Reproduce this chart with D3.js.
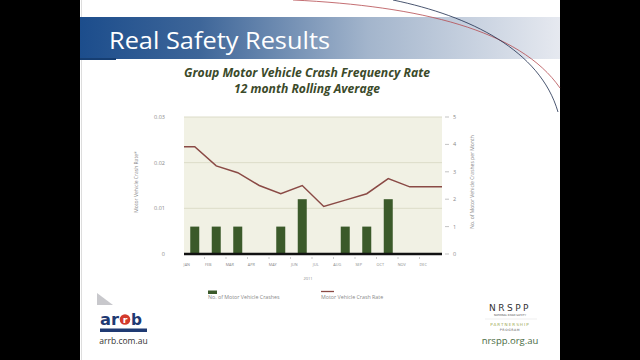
<!DOCTYPE html>
<html><head><meta charset="utf-8">
<script src="https://cdn.jsdelivr.net/npm/d3@7"></script>
<style>html,body{margin:0;padding:0;background:#000;overflow:hidden}</style>
</head><body><svg id="c" width="640" height="360"></svg>
<script>
const months = ["JAN","FEB","MAR","APR","MAY","JUN","JUL","AUG","SEP","OCT","NOV","DEC"];
const crashes = [1,1,1,0,1,2,0,1,1,2,0,0];
const crashRate = [0.0235,0.0193,0.0178,0.015,0.0132,0.015,0.0104,0.0118,0.0132,0.0165,0.0147,0.0147];
const leftTicks = [0,0.01,0.02,0.03];
const rightTicks = [0,1,2,3,4,5];
const yearLabel = "2011";

const svg = d3.select("#c");
// slide
svg.append("rect").attr("x",80).attr("y",0).attr("width",480).attr("height",360).attr("fill","#fff");
svg.append("line").attr("x1",81.5).attr("x2",81.5).attr("y1",0).attr("y2",360).attr("stroke","#ddd");
const defs = svg.append("defs");
const g1 = defs.append("linearGradient").attr("id","ban").attr("x1","0").attr("x2","1");
g1.append("stop").attr("offset","0").attr("stop-color","#1c4d8c");
g1.append("stop").attr("offset","0.25").attr("stop-color","#3e6699");
g1.append("stop").attr("offset","0.6").attr("stop-color","#a3b5cc");
g1.append("stop").attr("offset","1").attr("stop-color","#e6e9f0");
svg.append("rect").attr("x",80).attr("y",17).attr("width",480).attr("height",42).attr("fill","url(#ban)");
svg.append("rect").attr("x",80).attr("y",58).attr("width",36).attr("height",2).attr("fill","#163e72");
svg.append("text").attr("x",109).attr("y",49).attr("fill","#fff").attr("font-family","Open Sans")
  .attr("font-size",23).attr("textLength",221).attr("lengthAdjust","spacingAndGlyphs").text("Real Safety Results");
// decorative arcs
svg.append("path").attr("d","M293,0 C420,6 520,30 560,88").attr("fill","none").attr("stroke","#b54a4f").attr("stroke-width",0.8);
svg.append("path").attr("d","M393,0 C470,16 540,50 558,112").attr("fill","none").attr("stroke","#1d2c4d").attr("stroke-width",0.8);

// title
const tg = svg.append("g").attr("font-family","Open Sans").attr("font-weight","bold").attr("font-style","italic").attr("fill","#3b4a2a").attr("text-anchor","middle");
tg.append("text").attr("x",307).attr("y",77).attr("font-size",12.5).attr("textLength",246).attr("lengthAdjust","spacingAndGlyphs").text("Group Motor Vehicle Crash Frequency Rate");
tg.append("text").attr("x",307).attr("y",93).attr("font-size",12.5).attr("textLength",146).attr("lengthAdjust","spacingAndGlyphs").text("12 month Rolling Average");

// chart
const L=184, R=442, T=117, B=254;
const x = d3.scaleBand().domain(months).range([L,R]);
const yL = d3.scaleLinear().domain([0,0.03]).range([B,T]);
const yR = d3.scaleLinear().domain([0,5]).range([B,T]);

svg.append("rect").attr("x",L).attr("y",T).attr("width",R-L).attr("height",B-T).attr("fill","#f1f1e4");
svg.selectAll(".grid").data(leftTicks.slice(1)).join("line")
  .attr("x1",L).attr("x2",R).attr("y1",d=>yL(d)).attr("y2",d=>yL(d)).attr("stroke","#dcdcc8").attr("stroke-width",1);

const bw = 9;
svg.selectAll(".bar").data(months).join("rect")
  .attr("x",d=>x(d)+x.bandwidth()/2-bw/2).attr("width",bw)
  .attr("y",(d,i)=>yR(crashes[i])).attr("height",(d,i)=>B-yR(crashes[i]))
  .attr("fill","#3b5a2a");

const pts = months.map((m,i)=>[x(m)+x.bandwidth()/2, yL(crashRate[i])]);
pts.unshift([L, yL(crashRate[0])]);
pts.push([R, yL(crashRate[crashRate.length-1])]);
svg.append("path").attr("d",d3.line()(pts)).attr("fill","none").attr("stroke","#8a4a45").attr("stroke-width",1.5);

svg.append("line").attr("x1",L).attr("x2",R).attr("y1",B).attr("y2",B).attr("stroke","#111").attr("stroke-width",2.5);

const fs = "Open Sans";
// left axis
svg.selectAll(".lt").data(leftTicks).join("text").attr("x",165).attr("y",d=>yL(d)+2).attr("text-anchor","end")
  .attr("font-family",fs).attr("font-size",5.5).attr("fill","#888").text(d=>d===0?"0":d.toFixed(2));
// right axis
svg.selectAll(".rtk").data(rightTicks).join("line").attr("x1",445).attr("x2",449).attr("y1",d=>yR(d)).attr("y2",d=>yR(d)).attr("stroke","#aaa").attr("stroke-width",0.7);
svg.selectAll(".rt").data(rightTicks).join("text").attr("x",453).attr("y",d=>yR(d)+2)
  .attr("font-family",fs).attr("font-size",5.5).attr("fill","#888").text(d=>d);
// x ticks/labels
svg.selectAll(".xt").data(months.slice(1)).join("line").attr("x1",d=>x(d)-1).attr("x2",d=>x(d)-1).attr("y1",257).attr("y2",259).attr("stroke","#aaa").attr("stroke-width",0.6);
svg.selectAll(".xl").data(months).join("text").attr("x",d=>x(d)+x.bandwidth()/2-8).attr("y",266).attr("text-anchor","middle")
  .attr("font-family",fs).attr("font-size",3.8).attr("fill","#888").text(d=>d);
svg.append("text").attr("x",308).attr("y",280).attr("text-anchor","middle").attr("font-family",fs).attr("font-size",4).attr("fill","#888").text(yearLabel);
// axis titles
svg.append("text").attr("transform","translate(138,182) rotate(-90)").attr("text-anchor","middle").attr("font-family",fs).attr("font-size",5).attr("fill","#888").text("Motor Vehicle Crash Rate*");
svg.append("text").attr("transform","translate(474,182) rotate(-90)").attr("text-anchor","middle").attr("font-family",fs).attr("font-size",5).attr("fill","#888").text("No. of Motor Vehicle Crashes per Month");
// legend
svg.append("rect").attr("x",208).attr("y",290.5).attr("width",9).attr("height",3.5).attr("fill","#3b5a2a");
svg.append("text").attr("x",208).attr("y",299).attr("font-family",fs).attr("font-size",5.3).attr("fill","#888").text("No. of Motor Vehicle Crashes");
svg.append("line").attr("x1",321).attr("x2",334).attr("y1",291.5).attr("y2",291.5).attr("stroke","#8a4a45").attr("stroke-width",1.3);
svg.append("text").attr("x",321).attr("y",299).attr("font-family",fs).attr("font-size",5.3).attr("fill","#888").text("Motor Vehicle Crash Rate");

// bottom-left logo
svg.append("path").attr("d","M97,293 L97,305 L113,305 Z").attr("fill","#c8c8cc");
const lg = svg.append("g").attr("font-family","DejaVu Sans").attr("font-weight","bold").attr("font-size",15).attr("fill","#1f3a73");
lg.append("text").attr("x",100).attr("y",325).attr("textLength",19).attr("lengthAdjust","spacingAndGlyphs").text("ar");
svg.append("circle").attr("cx",125).attr("cy",319.5).attr("r",5.3).attr("fill","#d33a2c");
svg.append("text").attr("x",125).attr("y",323).attr("text-anchor","middle").attr("font-family","DejaVu Sans").attr("font-weight","bold").attr("font-size",9.5).attr("fill","#fff").text("r");
lg.append("text").attr("x",131).attr("y",325).attr("textLength",11).attr("lengthAdjust","spacingAndGlyphs").text("b");
svg.append("rect").attr("x",100).attr("y",328.5).attr("width",47).attr("height",3.5).attr("fill","#1f3a73");
svg.append("text").attr("x",123.5).attr("y",344).attr("text-anchor","middle").attr("font-family","Open Sans").attr("font-size",8.5).attr("fill","#333").text("arrb.com.au");

// bottom-right logo
const rg = svg.append("g").attr("text-anchor","middle").attr("font-family","DejaVu Sans");
rg.append("text").attr("x",510).attr("y",311).attr("font-size",9).attr("letter-spacing",2.5).attr("fill","#333").text("NRSPP");
rg.append("text").attr("x",510).attr("y",316).attr("font-size",2.6).attr("fill","#555").text("NATIONAL ROAD SAFETY");
rg.append("line").attr("x1",485).attr("x2",537).attr("y1",319).attr("y2",319).attr("stroke","#ddd").attr("stroke-width",0.5);
rg.append("text").attr("x",510).attr("y",326).attr("font-size",4.2).attr("letter-spacing",1).attr("fill","#9aa54a").text("PARTNERSHIP");
rg.append("text").attr("x",510).attr("y",331).attr("font-size",3.2).attr("letter-spacing",0.6).attr("fill","#555").text("PROGRAM");
rg.append("text").attr("x",510).attr("y",344).attr("font-family","Open Sans").attr("font-size",9.5).attr("fill","#4a6b44").text("nrspp.org.au");
</script></body></html>
